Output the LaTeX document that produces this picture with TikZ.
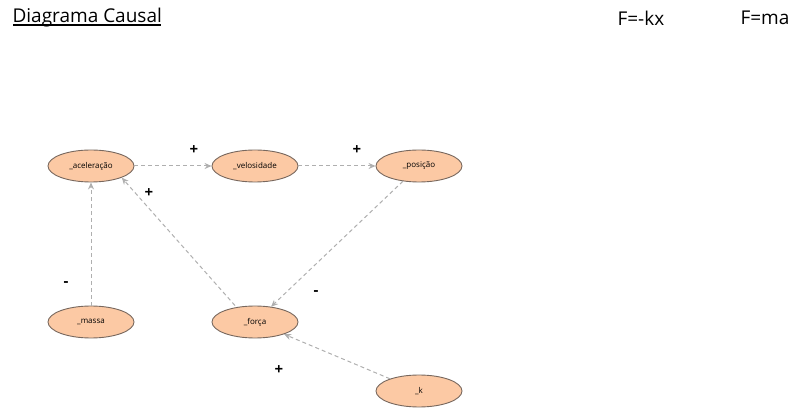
\documentclass[tikz,border=0pt]{standalone}
\usepackage{fontspec}
\setmainfont{Open Sans}
\usetikzlibrary{arrows.meta,shapes.geometric}
\definecolor{peach}{RGB}{252,201,164}
\definecolor{edgebrown}{RGB}{120,104,94}
\definecolor{arrowgrey}{RGB}{175,175,175}
\tikzset{
  var/.style={ellipse, draw=edgebrown, line width=0.9pt, fill=peach, minimum width=86pt, minimum height=32pt, inner sep=0pt, font=\fontsize{8}{9}\selectfont},
  link/.style={draw=arrowgrey, line width=1pt, dash pattern=on 4pt off 3pt, -{Stealth[length=7pt,width=6pt]}},
  sign/.style={font=\fontsize{15}{15}\selectfont\bfseries},
  head/.style={font=\fontsize{19}{20}\selectfont, anchor=west}
}
\begin{document}
\begin{tikzpicture}[x=1pt,y=-1pt]
\useasboundingbox (0,0) rectangle (800,419);
\node[head] (title) at (9,18) {Diagrama Causal};
\draw[line width=1.2pt] ([xshift=4pt,yshift=-2pt]title.base west) -- ([xshift=-4pt,yshift=-2pt]title.base east);
\node[head] (eq1) at (614,18) {F=-kx};
\node[head] (eq2) at (737,18) {F=ma};
\node[var] (acel) at (91,166) {\_aceleração};
\node[var] (vel) at (255,166) {\_velosidade};
\node[var] (pos) at (419,166) {\_posição};
\node[var] (massa) at (91,322) {\_massa};
\node[var] (forca) at (255,322) {\_força};
\node[var] (k) at (419,391) {\_k};
\draw[link] (acel) -- (vel);
\draw[link] (vel) -- (pos);
\draw[link] (pos) -- (forca);
\draw[link] ([xshift=-20pt]forca.north) -- (acel.south east);
\draw[link] (massa) -- (acel);
\draw[link] (k) -- (forca);
\node[sign] (p1) at (194,150) {+};
\node[sign] (p2) at (357,150) {+};
\node[sign] (p3) at (149,193) {+};
\node[sign] (m1) at (66,284) {-};
\node[sign] (m2) at (316,293) {-};
\node[sign] (p4) at (279,370) {+};
\end{tikzpicture}
\end{document}
